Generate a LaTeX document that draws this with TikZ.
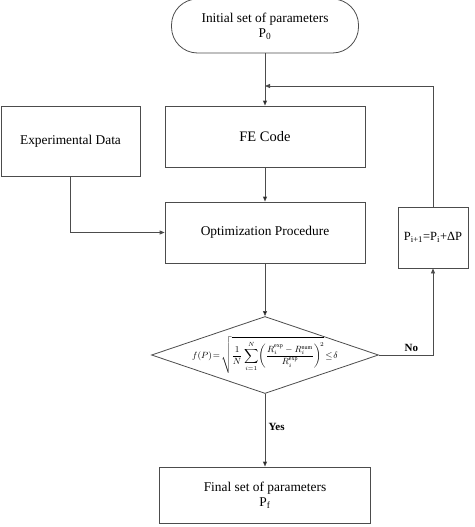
\documentclass[tikz,border=0pt]{standalone}
\usepackage{fontspec}
\setmainfont{Liberation Serif}
\usetikzlibrary{shapes.geometric,arrows.meta}

\begin{document}
\begin{tikzpicture}[x=1pt, y=-1pt, line width=0.8pt,
  >={Triangle[length=5pt,width=4pt]},
  blk/.style={draw=black!70, rectangle, inner sep=0pt, align=center, font=\fontsize{13.4}{15}\selectfont},
  term/.style={blk, rounded corners=26pt},
  dia/.style={draw=black!70, diamond, inner sep=0pt},
  lbl/.style={font=\bfseries\fontsize{11}{13}\selectfont}]

\useasboundingbox (0,0) rectangle (474,527);

\node[term, minimum width=187pt, minimum height=54pt] (init) at (265,26) {Initial set of parameters\\P\textsubscript{0}};
\node[blk, minimum width=200pt, minimum height=61pt, font=\fontsize{14.5}{16}\selectfont] (fe) at (265,136.5) {FE Code};
\node[blk, minimum width=139pt, minimum height=70pt] (exp) at (70.5,141) {Experimental Data};
\node[blk, minimum width=200pt, minimum height=61pt] (opt) at (265,232.5) {Optimization Procedure};
\node[blk, minimum width=70pt, minimum height=61pt, font=\fontsize{12.5}{14}\selectfont] (upd) at (433,237.5) {P\textsubscript{i+1}=P\textsubscript{i}+ΔP};
\node[dia, minimum width=227pt, minimum height=77pt] (dec) at (265,355) {};
\node[font=\fontsize{9}{10}\selectfont, inner sep=0pt] (crit) at (dec.center)
  {$\displaystyle f(P)\!=\!\sqrt{\frac{1}{N}\sum_{i=1}^{N}\!\left(\frac{R_i^{\mathrm{exp}}-R_i^{\mathrm{num}}}{R_i^{\mathrm{exp}}}\right)^{\!2}}\!\le\!\delta$};
\node[blk, minimum width=211pt, minimum height=56pt] (fin) at (265,495) {Final set of parameters\\P\textsubscript{f}};

\coordinate (back) at (265,86);

\path[->, draw=black!70]
	(init) 	edge (fe)
	(fe) 	edge (opt)
	(opt) 	edge (dec)
	(dec) 	edge node[lbl, right, pos=0.45] {Yes} (fin);
\draw[->, draw=black!70] (exp.south) |- (opt.west);
\draw[->, draw=black!70] (dec.east) -| node[lbl, pos=0.3, above] {No} (upd.south);
\draw[->, draw=black!70] (upd.north) |- (back);

\end{tikzpicture}
\end{document}
